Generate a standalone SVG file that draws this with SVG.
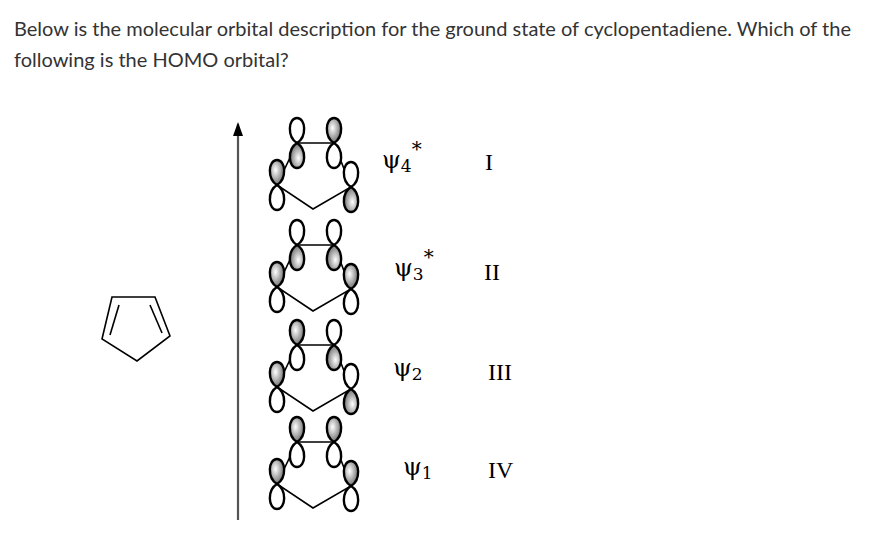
<svg xmlns="http://www.w3.org/2000/svg" width="887" height="554" viewBox="0 0 887 554">
<defs>
<radialGradient id="g" cx="0.4" cy="0.4" r="0.65"><stop offset="0" stop-color="#fff"/><stop offset="0.55" stop-color="#aaa"/><stop offset="1" stop-color="#666"/></radialGradient>
<path id="lobe" d="M0,0 C-10,-6 -9,-25 0,-25 C9,-25 10,-6 0,0 Z" stroke="#000" stroke-width="2.4"/>
<marker id="ah" markerWidth="14" markerHeight="10" refX="12" refY="5" orient="auto" markerUnits="userSpaceOnUse" viewBox="0 0 14 10"><path d="M0,0 L14,5 L0,10 Z" fill="#000"/></marker>
</defs>
<style>
.q{font-family:Lato,"Liberation Sans",sans-serif;font-size:20px;fill:#333}
.s{font-family:"Liberation Serif",serif;font-size:24px;fill:#000}
.p{font-family:"DejaVu Serif",serif;font-size:24px;fill:#000}
.b{stroke:#000;stroke-width:1.6;fill:none}
.w{fill:#fff}.d{fill:url(#g)}
</style>
<rect width="887" height="554" fill="#fff"/>
<text class="q" x="14" y="36">Below is the molecular orbital description for the ground state of cyclopentadiene.  Which of the</text>
<text class="q" x="14" y="67">following is the HOMO orbital?</text>
<g id="cyclopentadiene">
<path class="b" d="M112,297 L155,297 L170,336 L137,361 L102,339 Z" stroke-width="2"/>
<line class="b" x1="119" y1="305" x2="110" y2="335"/>
<line class="b" x1="150" y1="305" x2="162" y2="333"/>
</g>
<g id="connectors"><line x1="238" y1="520" x2="238" y2="124" stroke="#555" stroke-width="2.2" marker-end="url(#ah)"/></g>
<g id="psi4" transform="translate(0,143)">
<path class="b" d="M297,0 L334,0 M297,0 L277,42 L313,66 L351,44 L334,0"/>
<use href="#lobe" x="297" class="w"/><use href="#lobe" x="297" class="d" transform="rotate(180 297 0)"/>
<use href="#lobe" x="334" class="d"/><use href="#lobe" x="334" class="w" transform="rotate(180 334 0)"/>
<g transform="translate(0,42)"><use href="#lobe" x="277" class="d"/><use href="#lobe" x="277" class="w" transform="rotate(180 277 0)"/></g>
<g transform="translate(0,44)"><use href="#lobe" x="351" class="w"/><use href="#lobe" x="351" class="d" transform="rotate(180 351 0)"/></g>
</g>
<g id="psi3" transform="translate(0,245)">
<path class="b" d="M297,0 L334,0 M297,0 L277,42 L313,66 L351,44 L334,0"/>
<use href="#lobe" x="297" class="w"/><use href="#lobe" x="297" class="d" transform="rotate(180 297 0)"/>
<use href="#lobe" x="334" class="w"/><use href="#lobe" x="334" class="d" transform="rotate(180 334 0)"/>
<g transform="translate(0,42)"><use href="#lobe" x="277" class="d"/><use href="#lobe" x="277" class="w" transform="rotate(180 277 0)"/></g>
<g transform="translate(0,44)"><use href="#lobe" x="351" class="d"/><use href="#lobe" x="351" class="w" transform="rotate(180 351 0)"/></g>
</g>
<g id="psi2" transform="translate(0,345)">
<path class="b" d="M297,0 L334,0 M297,0 L277,42 L313,66 L351,44 L334,0"/>
<use href="#lobe" x="297" class="d"/><use href="#lobe" x="297" class="w" transform="rotate(180 297 0)"/>
<use href="#lobe" x="334" class="w"/><use href="#lobe" x="334" class="d" transform="rotate(180 334 0)"/>
<g transform="translate(0,42)"><use href="#lobe" x="277" class="d"/><use href="#lobe" x="277" class="w" transform="rotate(180 277 0)"/></g>
<g transform="translate(0,44)"><use href="#lobe" x="351" class="w"/><use href="#lobe" x="351" class="d" transform="rotate(180 351 0)"/></g>
</g>
<g id="psi1" transform="translate(0,442)">
<path class="b" d="M297,0 L334,0 M297,0 L277,42 L313,66 L351,44 L334,0"/>
<use href="#lobe" x="297" class="d"/><use href="#lobe" x="297" class="w" transform="rotate(180 297 0)"/>
<use href="#lobe" x="334" class="d"/><use href="#lobe" x="334" class="w" transform="rotate(180 334 0)"/>
<g transform="translate(0,42)"><use href="#lobe" x="277" class="d"/><use href="#lobe" x="277" class="w" transform="rotate(180 277 0)"/></g>
<g transform="translate(0,44)"><use href="#lobe" x="351" class="d"/><use href="#lobe" x="351" class="w" transform="rotate(180 351 0)"/></g>
</g>
<g id="labels">
<text class="p" x="382" y="168">ψ<tspan font-size="17" dy="4">4</tspan><tspan font-size="20" dy="-16">*</tspan></text>
<text class="p" x="394" y="276">ψ<tspan font-size="17" dy="4">3</tspan><tspan font-size="20" dy="-16">*</tspan></text>
<text class="p" x="393" y="376">ψ<tspan font-size="17" dy="4">2</tspan></text>
<text class="p" x="403" y="475">ψ<tspan font-size="17" dy="4">1</tspan></text>
<text class="s" x="485" y="170">I</text>
<text class="s" x="484" y="280">II</text>
<text class="s" x="488" y="380">III</text>
<text class="s" x="488" y="478">IV</text>
</g>
</svg>
